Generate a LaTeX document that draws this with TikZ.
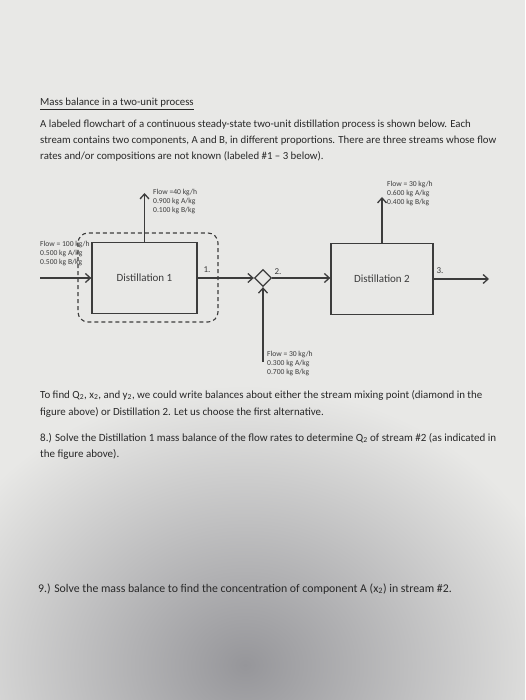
\documentclass[tikz,border=0pt]{standalone}
\usepackage{fontspec}
\setmainfont{Carlito}
\usetikzlibrary{arrows.meta,shapes.geometric}
\definecolor{paper}{RGB}{232,232,230}
\definecolor{shadow}{RGB}{150,150,154}
\definecolor{pen}{RGB}{60,60,60}
\definecolor{print}{RGB}{40,40,40}

\begin{document}
\begin{tikzpicture}[x=1pt,y=-1pt]
\tikzstyle{ink}=[draw=pen,line width=1.3pt]
\tikzstyle{unit}=[ink,rectangle,fill=none,inner sep=0pt,font=\fontsize{11}{13}\selectfont,text=pen]
\tikzstyle{mixer}=[ink,diamond,aspect=1,minimum size=17pt,inner sep=0pt]
\tikzstyle{stream}=[ink,-{Straight Barb[length=5pt,width=9pt]}]
\tikzstyle{info}=[anchor=north west,inner sep=0pt,align=left,font=\fontsize{7.6}{9}\selectfont,text=pen]
\tikzstyle{tag}=[inner sep=0pt,font=\fontsize{9}{10}\selectfont,text=pen]
\tikzstyle{para}=[anchor=base west,inner sep=0pt,align=left,font=\fontsize{10.8}{16}\selectfont,text=print]
% paper
\useasboundingbox (0,0) rectangle (525,700);
\begin{scope}
\clip (0,0) rectangle (525,700);
\fill[paper] (0,0) rectangle (525,700);
\shade[inner color=shadow,outer color=paper] (245,665) ellipse (330 and 280);
\end{scope}
% text above the chart
\node[para] (title) at (40,106) {\underline{Mass balance in a two-unit process}};
\node[para] (intro) at (40,160) {A labeled flowchart of a continuous steady-state two-unit distillation process is shown below. Each\\
stream contains two components, A and B, in different proportions. There are three streams whose flow\\
rates and/or compositions are not known (labeled \#1 -- 3 below).};
% units
\node[unit,minimum width=105pt,minimum height=71pt] (d1) at (144.5,278) {Distillation 1};
\node[unit,minimum width=102pt,minimum height=71pt] (d2) at (382,279) {Distillation 2};
\node[mixer] (mix) at (263,278) {};
\foreach \name/\point in {
	in1/{40,278},
	top1/{144.5,193},
	top2/{382,197},
	out3/{489,279},
	feed/{263,362}}
	\coordinate (\name) at (\point);
% balance envelope around unit 1
\draw[ink,line width=1.1pt,dash pattern=on 4pt off 3pt,rounded corners=10pt] (78,233) rectangle (218,322);
% streams
\draw[stream] (in1) -- (d1.west);
\draw[stream] (d1.north) -- (top1);
\draw[stream] (d1.east) -- (mix.west);
\draw[stream] (mix.east) -- (d2.west |- mix.east);
\draw[stream] (d2.north) -- (top2);
\draw[stream] (d2.east) -- (out3);
\draw[stream] (feed) -- (mix.south);
\node[tag] (s1) at (207,270) {1.};
\node[tag] (s2) at (278,272) {2.};
\node[tag] (s3) at (440,271) {3.};
% stream data
\node[info] (fin) at (40,241) {Flow = 100 kg/h\\0.500 kg A/kg\\0.500 kg B/kg};
\node[info] (ftop1) at (153,189) {Flow =40 kg/h\\0.900 kg A/kg\\0.100 kg B/kg};
\node[info] (ftop2) at (387,181) {Flow = 30 kg/h\\0.600 kg A/kg\\0.400 kg B/kg};
\node[info] (ffeed) at (267,351) {Flow = 30 kg/h\\0.300 kg A/kg\\0.700 kg B/kg};
% questions
\node[para,font=\fontsize{10.9}{17}\selectfont] (hint) at (40,415) {To find Q\textsubscript{2}, x\textsubscript{2}, and y\textsubscript{2}, we could write balances about either the stream mixing point (diamond in the\\
figure above) or Distillation 2. Let us choose the first alternative.};
\node[para,font=\fontsize{11}{16}\selectfont] (q8) at (40,457) {8.) Solve the Distillation 1 mass balance of the flow rates to determine Q\textsubscript{2} of stream \#2 (as indicated in\\
the figure above).};
\node[para,font=\fontsize{11.8}{16}\selectfont] (q9) at (38,592) {9.) Solve the mass balance to find the concentration of component A (x\textsubscript{2}) in stream \#2.};
\end{tikzpicture}
\end{document}
